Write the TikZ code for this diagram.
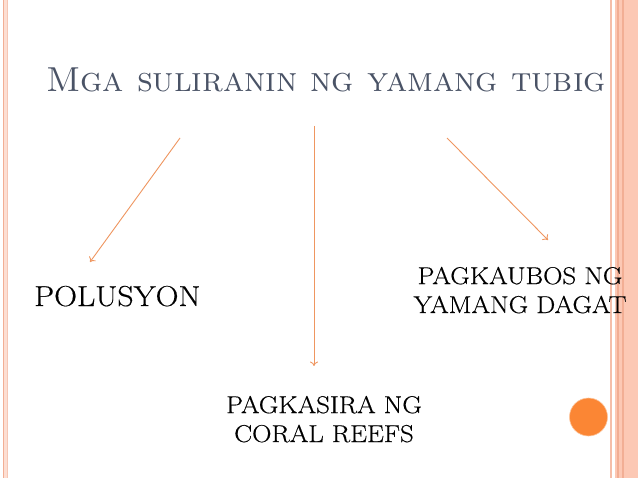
\documentclass[tikz,border=0pt]{standalone}
\usepackage{fontspec}
\newfontfamily\lblfont[FakeStretch=1.1, FakeBold=0.4]{Latin Modern Roman}
\usetikzlibrary{arrows.meta}
\definecolor{titlegray}{HTML}{4A5366}
\definecolor{arrowor}{HTML}{EF9660}
\definecolor{stripe}{HTML}{FCC8B4}
\definecolor{stripedark}{HTML}{F2AE94}
\definecolor{dotor}{HTML}{FB8634}
\tikzset{
  conn/.style={draw=arrowor, line width=0.9bp, -{To[length=4.5bp,width=8bp]}},
  lbl/.style={inner sep=0pt, text=black, align=center},
}
\begin{document}
\begin{tikzpicture}[x=1bp,y=-1bp]
\useasboundingbox (0,0) rectangle (638,478);
\fill[white] (0,0) rectangle (638,478);
% left stripe
\fill[stripe!60] (3,0) rectangle (7.5,478);
\draw[stripedark, line width=0.8bp] (3.5,0) -- (3.5,478);
\draw[stripedark!70, line width=0.6bp] (7,0) -- (7,478);
% right stripes
\fill[stripedark!80] (609.5,0) rectangle (611.5,478);
\fill[stripe] (614.5,0) rectangle (638,478);
\fill[stripedark] (617,0) rectangle (619,478);
\fill[stripedark] (622,0) rectangle (623.5,478);
% dot
\node[circle, fill=dotor, draw=dotor!50, line width=0.6bp, minimum size=38bp, inner sep=0pt] (dot) at (588.5,417) {};
% title
\node[anchor=base west, inner sep=0pt, text=titlegray, font=\fontsize{34.8}{40}\selectfont\scshape] (title) at (46,92) {Mga suliranin ng yamang tubig};
% labels
\node[lbl, anchor=base west, font=\lblfont\fontsize{29}{33}\selectfont] (pol) at (34,306) {POLUSYON};
\node[lbl, anchor=base, font=\lblfont\fontsize{24.5}{29}\selectfont] (kau) at (520,313) {PAGKAUBOS NG\\YAMANG DAGAT};
\node[lbl, anchor=base, font=\lblfont\fontsize{24.5}{29}\selectfont] (kas) at (324,442) {PAGKASIRA NG\\CORAL REEFS};
% connector endpoints
\coordinate (a1) at (180,138);
\coordinate (a2) at (90,262);
\coordinate (b1) at (314,126);
\coordinate (b2) at (314,366);
\coordinate (c1) at (447,138);
\coordinate (c2) at (548,240);
\draw[conn] (a1) -- (a2);
\draw[conn] (b1) -- (b2);
\draw[conn] (c1) -- (c2);
\end{tikzpicture}
\end{document}
